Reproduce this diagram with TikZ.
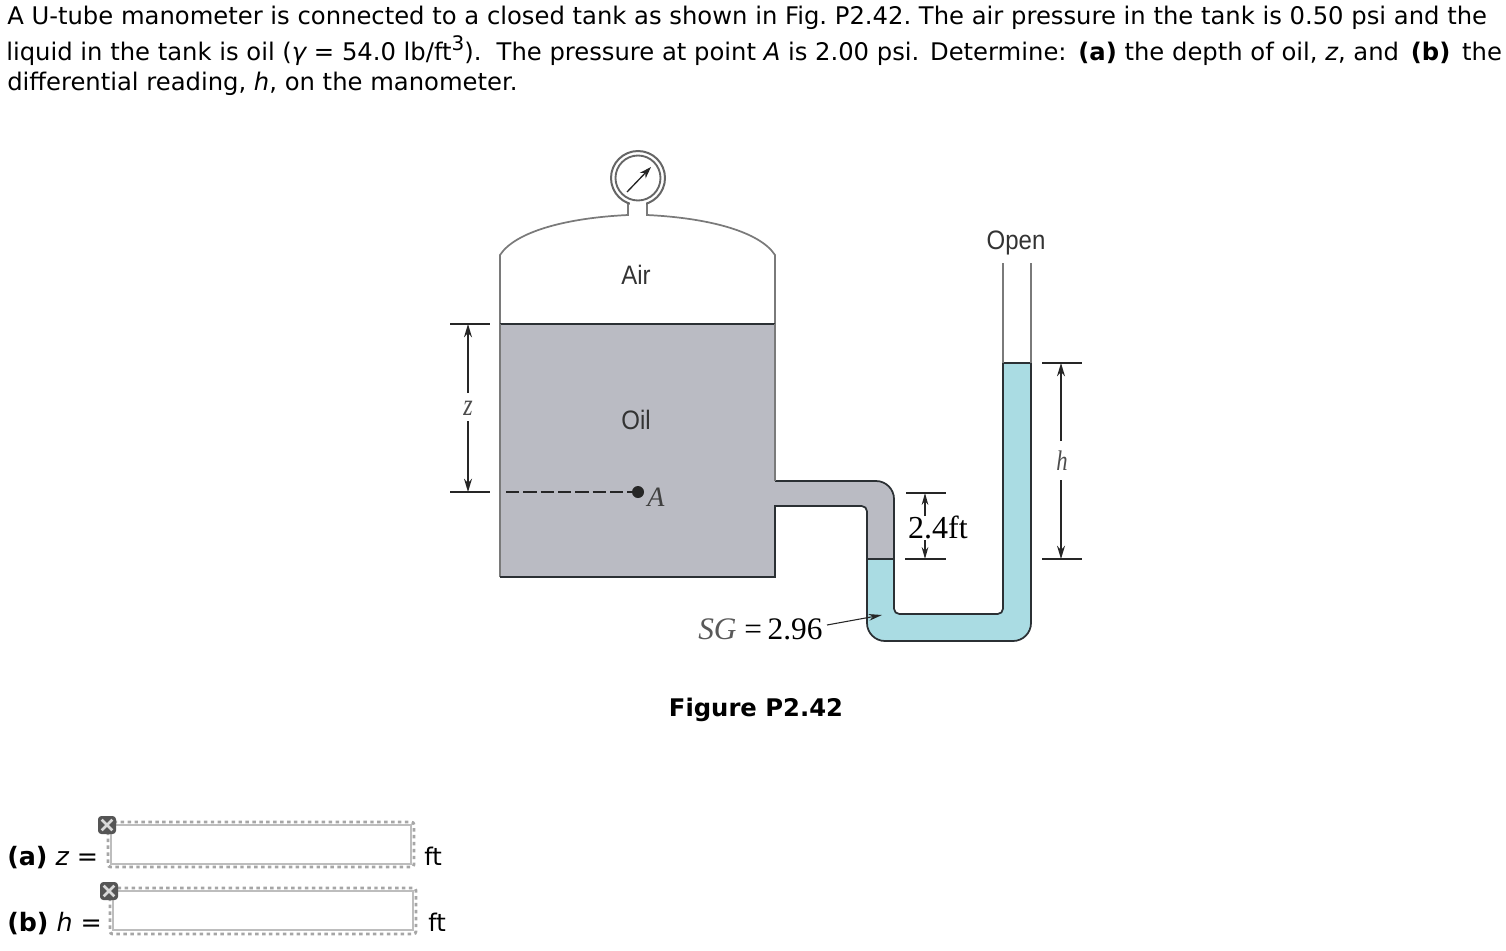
\documentclass[tikz,border=0pt]{standalone}
\usepackage{fontspec}
\setmainfont{DejaVu Sans}
\newfontfamily\figsans{Liberation Sans}
\newfontfamily\figserif{Liberation Serif}
\usetikzlibrary{arrows.meta}
\frenchspacing
\definecolor{oilgray}{HTML}{BABBC3}
\definecolor{sgblue}{HTML}{AADCE3}
\definecolor{wallgray}{HTML}{7A7A7A}
\definecolor{gaugegray}{HTML}{666666}
\definecolor{walldark}{HTML}{2B3034}
\definecolor{boxgray}{HTML}{BDBDBD}
\definecolor{dotgray}{HTML}{A6A6A6}
\definecolor{iconDark}{HTML}{555555}
\newcommand{\qfont}{\fontsize{18.2}{20}\selectfont}
\newcommand{\ansfont}{\fontsize{19}{20}\selectfont}
\newcommand{\figfont}{\figsans\fontsize{20}{22}\selectfont}
\newcommand{\numfont}{\figserif\fontsize{24}{26}\selectfont}
\newcommand{\bigsup}[1]{\raisebox{7.5pt}{\fontsize{15}{16}\selectfont #1}}
\tikzset{
  x=0.75pt,y=-0.75pt,
  qtext/.style={anchor=base west,inner sep=0pt,font=\qfont,text=black},
  anstext/.style={anchor=base west,inner sep=0pt,font=\ansfont,text=black},
  figlabel/.style={inner sep=0pt,font=\figfont,text=black!80},
  numlabel/.style={inner sep=0pt,font=\numfont,text=black},
  wall/.style={draw=walldark,line width=1.3pt},
  thinwall/.style={draw=wallgray,line width=1.3pt},
  dimtick/.style={draw=black!85,line width=1pt},
  dimarrow/.style={draw=black!85,line width=1pt,-{Stealth[length=10pt,width=6pt]}},
  smallarrow/.style={draw=black!85,line width=1pt,-{Stealth[length=9pt,width=5pt]}},
  answerbox/.style={draw=boxgray,line width=0.8pt,fill=white},
  dotframe/.style={draw=dotgray,line width=2.2pt,dash pattern=on 2.6pt off 2.6pt,rounded corners=2pt},
  xicon/.style={fill=iconDark,rounded corners=2.5pt,minimum size=13.5pt,inner sep=0pt},
  xstroke/.style={draw=white!85!black,line width=2pt},
}
\begin{document}
\begin{tikzpicture}
\useasboundingbox (0,0) rectangle (1506,950);
% question text
\node[qtext] (l1) at (7,24) {A U-tube manometer is connected to a closed tank as shown in Fig. P2.42. The air pressure in the tank is 0.50 psi and the};
\node[qtext] (l2) at (6,60) {liquid in the tank is oil ({\itshape γ} = 54.0 lb/ft\bigsup{3}).\hspace{5.5pt} The pressure at point {\itshape A} is 2.00 psi.\hspace{2.25pt} Determine:\hspace{3pt} \textbf{(a)} the depth of oil, {\itshape z}, and\hspace{3pt} \textbf{(b)}\hspace{3pt} the};
\node[qtext] (l3) at (7,90) {differential reading, {\itshape h}, on the manometer.};
% fluids
\fill[oilgray] (500,324) -- (775,324) -- (775,481) [rounded corners=13.5pt] -- (894,481) [sharp corners] -- (894,559) -- (867,559) [rounded corners=4pt] -- (867,506) [sharp corners] -- (775,506) -- (775,577) -- (500,577) -- cycle;
\fill[sgblue] (867,559) -- (894,559) [rounded corners=4pt] -- (894,614) -- (1003,614) [sharp corners] -- (1003,363) -- (1031,363) [rounded corners=13.5pt] -- (1031,641) -- (867,641) [sharp corners] -- cycle;
% tank
\draw[thinwall] (500,324) -- (500,255) .. controls (515,232) and (565,218) .. (628,215) -- (628,201);
\draw[thinwall] (775,324) -- (775,255) .. controls (760,232) and (710,218) .. (647,215) -- (647,201);
\draw[wall] (500,324) -- (775,324);
\draw[thinwall] (500,324) -- (500,577);
\draw[wall] (500,577) -- (775,577) -- (775,506) [rounded corners=4pt] -- (867,506) -- (867,600);
\draw[wall] (775,481) [rounded corners=13.5pt] -- (894,481) [rounded corners=4pt] -- (894,614) -- (1003,614) [sharp corners] -- (1003,363);
\draw[thinwall] (775,324) -- (775,481);
\draw[wall] (867,600) [rounded corners=13.5pt] -- (867,641) -- (1031,641) [sharp corners] -- (1031,363);
\draw[walldark,line width=0.9pt] (867,559) -- (894,559);
\draw[wall] (1003,363) -- (1031,363);
\draw[thinwall] (1003,363) -- (1003,263);
\draw[thinwall] (1031,363) -- (1031,263);
% gauge
\draw[draw=gaugegray,line width=1.5pt,fill=white] (638,178) circle[radius=27];
\fill[white] (629.5,201.5) rectangle (645.5,207);
\draw[draw=gaugegray,line width=1.4pt] (638,178) circle[radius=22.5];
\coordinate (gs) at (627,192);
\coordinate (ge) at (651,167);
\draw[draw=black!85,line width=1pt,-{Stealth[length=9pt,width=6pt]}] (gs) -- (ge);
% labels
\node[figlabel] (air) at (636,275) {\scalebox{0.9}[1]{Air}};
\node[figlabel] (oil) at (636,420) {\scalebox{0.9}[1]{Oil}};
\node[figlabel] (open) at (1016,243) {\scalebox{0.9}[1]{Open}};
% point A
\node[circle,fill=black!85,minimum size=9pt,inner sep=0pt] (ptA) at (638,492) {};
\node[inner sep=0pt,font=\figserif\itshape\fontsize{21}{22}\selectfont,text=black!75] (labA) at (656,497) {A};
\coordinate (ds) at (506,492);
\draw[black!85,line width=1pt,dash pattern=on 10pt off 3pt] (ds) -- (ptA);
% z dimension
\coordinate (zt1) at (450,324); \coordinate (zt2) at (490,324);
\coordinate (zb1) at (450,492); \coordinate (zb2) at (490,492);
\coordinate (zta) at (468,324); \coordinate (zba) at (468,492);
\draw[dimtick] (zt1) -- (zt2);
\draw[dimtick] (zb1) -- (zb2);
\node[inner sep=0pt,font=\figserif\itshape\fontsize{18}{19}\selectfont,text=black!70] (zlab) at (468,408) {\scalebox{1}[1.3]{z}};
\coordinate (zu) at (468,393); \coordinate (zd) at (468,421);
\draw[dimarrow] (zu) -- (zta);
\draw[dimarrow] (zd) -- (zba);
% 2.4ft dimension
\coordinate (at1) at (906,493); \coordinate (at2) at (946,493);
\coordinate (ab1) at (905,559); \coordinate (ab2) at (946,559);
\coordinate (ata) at (925,493); \coordinate (aba) at (925,559);
\draw[dimtick] (at1) -- (at2);
\draw[dimtick] (ab1) -- (ab2);
\node[numlabel] (dimlab) at (938,527) {2.4ft};
\coordinate (au) at (925,516); \coordinate (ad) at (925,540);
\draw[smallarrow] (au) -- (ata);
\draw[smallarrow] (ad) -- (aba);
% h dimension
\coordinate (ht1) at (1042,363); \coordinate (ht2) at (1082,363);
\coordinate (hb1) at (1042,559); \coordinate (hb2) at (1082,559);
\coordinate (hta) at (1061,363); \coordinate (hba) at (1061,559);
\draw[dimtick] (ht1) -- (ht2);
\draw[dimtick] (hb1) -- (hb2);
\node[inner sep=0pt,font=\figserif\itshape\fontsize{17}{18}\selectfont,text=black!70] (hlab) at (1062,461) {\scalebox{1}[1.25]{h}};
\coordinate (hu) at (1061,441); \coordinate (hd) at (1061,480);
\draw[dimarrow] (hu) -- (hta);
\draw[dimarrow] (hd) -- (hba);
% SG
\node[inner sep=0pt,anchor=base west,font=\figserif\fontsize{23.5}{26}\selectfont] (sg) at (698,639) {{\itshape\color{black!65}SG}\hspace{0.25em}=\hspace{0.18em}2.96};
\coordinate (sgtip) at (882,615);
\coordinate (sgst) at (827,625);
\draw[black!85,line width=0.8pt,-{Stealth[length=10pt,width=5pt]}] (sgst) -- (sgtip);
% caption
\node[inner sep=0pt,font=\qfont\bfseries,text=black] (cap) at (756,710) {Figure P2.42};
% answers
\node[anstext] (qa) at (7,865) {\textbf{(a)} {\itshape z} =};
\node[anstext] (qb) at (7,931) {\textbf{(b)} {\itshape h} =};
\draw[dotframe] (108,822) rectangle (414,867);
\draw[answerbox] (111,825) rectangle (411,864);
\draw[dotframe] (110,888) rectangle (416,934);
\draw[answerbox] (113,891) rectangle (413,930);
\node[qtext] (fa) at (424,865) {ft};
\node[qtext] (fb) at (428,931) {ft};
\node[xicon] (ia) at (107,825) {};
\draw[xstroke] (ia.center) ++(-4pt,-4pt) -- ++(8pt,8pt);
\draw[xstroke] (ia.center) ++(-4pt,4pt) -- ++(8pt,-8pt);
\node[xicon] (ib) at (109,891) {};
\draw[xstroke] (ib.center) ++(-4pt,-4pt) -- ++(8pt,8pt);
\draw[xstroke] (ib.center) ++(-4pt,4pt) -- ++(8pt,-8pt);
\end{tikzpicture}
\end{document}
